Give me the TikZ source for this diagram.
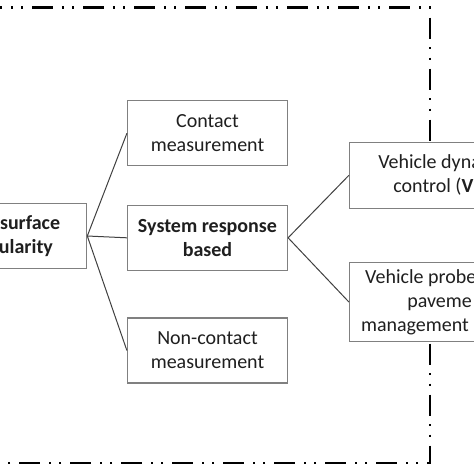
\documentclass[tikz,border=0pt]{standalone}
\usepackage{fontspec}
\setmainfont{Carlito}

\begin{document}
\begin{tikzpicture}
    [x = 1pt, y = -1pt,
     font = \fontsize{20}{24}\selectfont,
     boxNode/.style = {draw = black!50, fill = white, line width = 1.2pt,
                       inner sep = 0pt, align = center, text = black!88,
                       minimum width = 160pt, minimum height = 65pt},
     boldNode/.style = {boxNode, font = \fontsize{20}{24}\selectfont\bfseries},
     wideNode/.style = {boxNode, minimum width = 197pt},
     link/.style = {draw = black!75, line width = 1pt},
     frameLine/.style = {line width = 2.5pt, dash pattern = on 21pt off 8.5pt
                         on 2pt off 8.5pt on 2pt off 9pt}]

    \useasboundingbox (0,0) rectangle (474,474);

    \coordinate (frTR) at (430, 7.3);
    \coordinate (frBR) at (430, 463);

    \node at (6.7,  236)   [boldNode] (surface)
      {\phantom{Road }surface\\\phantom{irreg}ularity};

    \node at (207.5, 133.3) [boxNode]  (contact)    {Contact\\measurement};
    \node at (207.5, 237.8) [boldNode] (system)     {System response\\based};
    \node at (207.5, 350.5) [boxNode]  (noncontact) {Non-contact\\measurement};

    \node at (448, 175.3) [wideNode, minimum height = 66pt] (dynamics)
      {Vehicle dyna\phantom{mics}\\control (\textbf{V}\phantom{\textbf{DC})}};
    \node at (448, 302)   [wideNode, minimum height = 79pt] (probe)
      {Vehicle probe\phantom{-based}\\paveme\phantom{nt}\\management\phantom{ (\textbf{VPMS})}};

    \draw [frameLine, dash phase = 39.7pt]
      (-30, 7.3) -- (frTR) -- (dynamics.north -| frTR);
    \draw [frameLine, dash phase = 49.6pt]
      (probe.south -| frBR) -- (frBR) -- (-30, 463);

    \path
      (surface.east) edge [link] (contact.west)
      (surface.east) edge [link] (system.west)
      (surface.east) edge [link] (noncontact.west)

      (system.east) edge [link] (dynamics.west)
      (system.east) edge [link] (probe.west);
  \end{tikzpicture}
\end{document}
